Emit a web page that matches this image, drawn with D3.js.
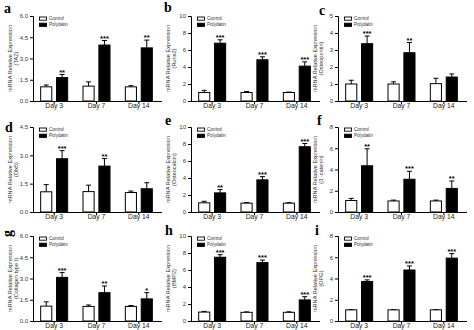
<!DOCTYPE html>
<html><head><meta charset="utf-8">
<script src="https://cdn.jsdelivr.net/npm/d3@7"></script>
<style>html,body{margin:0;padding:0;background:#fff;}svg{display:block;}</style>
</head><body><svg id="c" width="474" height="330"></svg>
<script>
const days = ["Day 3", "Day 7", "Day 14"];
const series = ["Control", "Polydatin"];
const letters = ["a", "b", "c", "d", "e", "f", "g", "h", "i"];
const genes = ["TAZ", "Runx2", "Osteopontin", "Dlx5", "Osteocalcin", "β -catenin", "Collagen type I", "BMP2", "OPG"];
const yMaxes = [6, 10, 5, 4.5, 10, 8, 6, 10, 8];
const yTicks = [
  [0, 1.5, 3, 4.5, 6], [0, 2, 4, 6, 8, 10], [0, 1, 2, 3, 4, 5],
  [0, 1.5, 3, 4.5], [0, 2, 4, 6, 8, 10], [0, 2, 4, 6, 8],
  [0, 1.5, 3, 4.5, 6], [0, 2, 4, 6, 8, 10], [0, 2, 4, 6, 8]
];
const controlMeans = [
  [1.0, 1.05, 1.0], [1.0, 1.0, 1.0], [1.0, 1.0, 1.02],
  [1.07, 1.08, 1.03], [1.08, 1.04, 1.04], [1.08, 1.04, 1.04],
  [1.05, 1.03, 1.03], [1.05, 1.02, 1.02], [1.05, 1.05, 1.05]
];
const controlErrors = [
  [0.13, 0.3, 0.08], [0.25, 0.12, 0.05], [0.22, 0.13, 0.32],
  [0.38, 0.34, 0.08], [0.18, 0.06, 0.06], [0.2, 0.08, 0.08],
  [0.3, 0.1, 0.06], [0.08, 0.05, 0.06], [0.03, 0.03, 0.03]
];
const polydatinMeans = [
  [1.65, 3.95, 3.75], [6.8, 4.85, 4.1], [3.37, 2.84, 1.41],
  [2.82, 2.43, 1.23], [2.25, 3.78, 7.68], [4.35, 3.08, 2.22],
  [3.08, 2.0, 1.56], [7.5, 6.87, 2.48], [3.72, 4.8, 5.92]
];
const polydatinErrors = [
  [0.22, 0.32, 0.55], [0.4, 0.35, 0.5], [0.45, 0.6, 0.18],
  [0.43, 0.4, 0.32], [0.4, 0.38, 0.38], [1.6, 0.75, 0.7],
  [0.35, 0.47, 0.44], [0.3, 0.3, 0.38], [0.15, 0.38, 0.42]
];
const stars = [
  ["**", "***", "**"], ["***", "***", "***"], ["***", "**", ""],
  ["***", "**", ""], ["**", "***", "***"], ["**", "***", "**"],
  ["***", "**", "*"], ["***", "***", "***"], ["***", "***", "***"]
];

const svg = d3.select("#c");
const colX = [33, 191, 338];
const rowTop = [16, 127, 236];
const plotH = 85;
const plotW = 127;
const font = "Liberation Sans, Arial, sans-serif";

letters.forEach((L, p) => {
  const col = p % 3, row = Math.floor(p / 3);
  const x0 = colX[col], top = rowTop[row], bottom = top + plotH;
  const g = svg.append("g");
  const y = d3.scaleLinear().domain([0, yMaxes[p]]).range([bottom, top]);
  const x = d3.scaleBand().domain(days).range([x0, x0 + plotW]);
  const xs = d3.scaleBand().domain(series).range([-13.5, 13.5]).paddingInner(0.3);
  const fmt = yTicks[p].some(v => v % 1 !== 0) ? d3.format(".1f") : d3.format("d");

  // legend
  series.forEach((s, k) => {
    const ry = top + 1 + k * 6.2;
    g.append("rect").attr("x", x0 + 6.5).attr("y", ry).attr("width", 7).attr("height", 3.2)
      .attr("fill", s === "Control" ? "#fff" : "#000").attr("stroke", "#000").attr("stroke-width", 0.9);
    g.append("text").attr("x", x0 + 16).attr("y", ry + 3.2).attr("font-family", font).attr("font-size", 4.6)
      .attr("fill", "#333").text(s);
  });

  // bars
  days.forEach((d, i) => {
    const cx = x(d) + x.bandwidth() / 2;
    const vals = [
      {s: "Control", m: controlMeans[p][i], e: controlErrors[p][i]},
      {s: "Polydatin", m: polydatinMeans[p][i], e: polydatinErrors[p][i]}
    ];
    vals.forEach(v => {
      const bx = cx + xs(v.s);
      const bw = xs.bandwidth();
      const mid = bx + bw / 2;
      g.append("line").attr("x1", mid).attr("x2", mid)
        .attr("y1", y(v.m)).attr("y2", y(v.m + v.e)).attr("stroke", "#000").attr("stroke-width", 1);
      g.append("line").attr("x1", mid - 2.5).attr("x2", mid + 2.5)
        .attr("y1", y(v.m + v.e)).attr("y2", y(v.m + v.e)).attr("stroke", "#000").attr("stroke-width", 1);
      g.append("rect").attr("x", bx).attr("y", y(v.m)).attr("width", bw).attr("height", bottom - y(v.m))
        .attr("fill", v.s === "Control" ? "#fff" : "#000").attr("stroke", "#000").attr("stroke-width", 1);
      if (v.s === "Polydatin" && stars[p][i]) {
        g.append("text").attr("x", mid).attr("y", y(v.m + v.e) - 1.5).attr("dy", "0.35em")
          .attr("text-anchor", "middle").attr("font-family", font).attr("font-size", 7.5).attr("font-weight", "bold")
          .attr("transform", "translate(0,-1)")
          .text(stars[p][i]);
      }
    });
  });

  // axes
  const ya = g.append("g").attr("transform", `translate(${x0},0)`)
    .call(d3.axisLeft(y).tickValues(yTicks[p]).tickFormat(fmt).tickSize(3).tickPadding(2));
  ya.selectAll("text").attr("font-family", font).attr("font-size", 6).attr("fill", "#333");
  const xa = g.append("g").attr("transform", `translate(0,${bottom})`)
    .call(d3.axisBottom(x).tickSize(3));
  xa.select(".domain").attr("d", `M${x0},0.5H${x0 + plotW + 2}`);
  xa.selectAll("text").attr("font-family", font).attr("font-size", 6.8).attr("fill", "#222")
    .attr("y", 2).attr("dy", "0.71em");
  g.selectAll(".domain, .tick line").attr("stroke", "#000").attr("stroke-width", 1);

  // y label
  const lx = x0 - 21, ly = (top + bottom) / 2;
  const lab = g.append("text").attr("transform", `translate(${lx},${ly}) rotate(-90)`)
    .attr("text-anchor", "middle").attr("font-family", font).attr("font-size", 5.6).attr("fill", "#333");
  lab.append("tspan").attr("x", 0).attr("dy", 0).text("mRNA Relative Expression");
  lab.append("tspan").attr("x", 0).attr("dy", 6.2).text("(" + genes[p] + ")");

  // panel letter
  const letterPos = [[4, 13], [164, 12], [319, 15], [5, 132], [165, 125], [317, 125], [12, 237], [165, 235], [315, 235]];
  const [tx, ty] = letterPos[p];
  const lt = g.append("text").attr("font-family", "Liberation Serif, Times New Roman, serif")
    .attr("font-weight", "bold").attr("font-size", 14).text(L);
  if (L === "g") lt.attr("transform", `translate(${tx},${ty}) rotate(-90)`);
  else lt.attr("x", tx).attr("y", ty);
});
</script></body></html>
